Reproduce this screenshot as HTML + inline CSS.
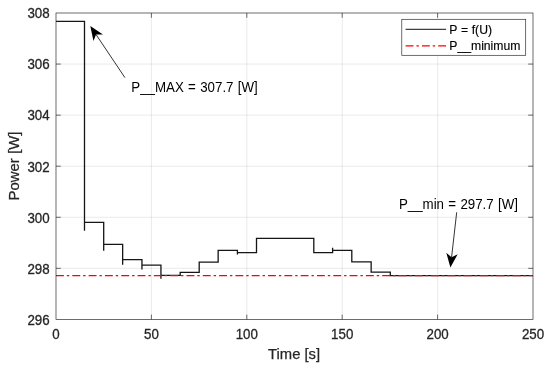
<!DOCTYPE html>
<html><head><meta charset="utf-8"><style>
html,body{margin:0;padding:0;background:#fff;}
body{width:550px;height:369px;overflow:hidden;}
svg{display:block;font-family:"Liberation Sans",Arial,sans-serif;}
text{stroke:currentColor;}
</style></head><body>
<svg width="550" height="369" viewBox="0 0 550 369">
<rect width="550" height="369" fill="#fff"/>
<g stroke="#262626" stroke-opacity="0.15" stroke-width="0.67"><line x1="151.40" y1="13.00" x2="151.40" y2="319.40"/><line x1="246.80" y1="13.00" x2="246.80" y2="319.40"/><line x1="342.20" y1="13.00" x2="342.20" y2="319.40"/><line x1="437.60" y1="13.00" x2="437.60" y2="319.40"/><line x1="56.00" y1="268.33" x2="533.00" y2="268.33"/><line x1="56.00" y1="217.27" x2="533.00" y2="217.27"/><line x1="56.00" y1="166.20" x2="533.00" y2="166.20"/><line x1="56.00" y1="115.13" x2="533.00" y2="115.13"/><line x1="56.00" y1="64.07" x2="533.00" y2="64.07"/></g>
<polyline points="56.00,21.45 84.50,21.45 84.50,230.80 84.50,222.40 103.70,222.40 103.70,250.80 103.70,244.35 122.65,244.35 122.65,264.80 122.65,259.60 141.95,259.60 141.95,269.50 141.95,265.10 160.95,265.10 160.95,278.70 160.95,275.45 180.20,275.45 180.20,272.40 199.20,272.40 199.20,262.10 218.15,262.10 218.15,250.45 237.40,250.45 237.40,254.60 237.40,252.65 256.50,252.65 256.50,238.45 313.80,238.45 313.80,252.60 332.60,252.60 332.60,247.80 332.60,250.45 351.80,250.45 351.80,261.85 371.15,261.85 371.15,272.10 390.30,272.10 390.30,275.55 533.00,275.55" fill="none" stroke="#151515" stroke-width="1.3" stroke-linejoin="miter"/>
<line x1="56.00" y1="275.6" x2="533.00" y2="275.6" stroke="#ff0000" stroke-width="1.4" stroke-dasharray="7.9 2.95 2.4 3.06"/>
<path d="M151.40 319.40V314.60M151.40 13.00V17.80M246.80 319.40V314.60M246.80 13.00V17.80M342.20 319.40V314.60M342.20 13.00V17.80M437.60 319.40V314.60M437.60 13.00V17.80M56.00 268.33H60.80M533.00 268.33H528.20M56.00 217.27H60.80M533.00 217.27H528.20M56.00 166.20H60.80M533.00 166.20H528.20M56.00 115.13H60.80M533.00 115.13H528.20M56.00 64.07H60.80M533.00 64.07H528.20" stroke="#262626" stroke-width="0.67" fill="none"/>
<rect x="56.00" y="13.00" width="477.00" height="306.40" fill="none" stroke="#262626" stroke-width="0.67"/>
<g font-size="13.33" fill="#262626" color="#262626" stroke-width="0.28"><text x="49.60" y="324.75" text-anchor="end" transform="matrix(1 0 0 1.04 0 -12.99)">296</text><text x="49.60" y="273.68" text-anchor="end" transform="matrix(1 0 0 1.04 0 -10.95)">298</text><text x="49.60" y="222.62" text-anchor="end" transform="matrix(1 0 0 1.04 0 -8.90)">300</text><text x="49.60" y="171.55" text-anchor="end" transform="matrix(1 0 0 1.04 0 -6.86)">302</text><text x="49.60" y="120.48" text-anchor="end" transform="matrix(1 0 0 1.04 0 -4.82)">304</text><text x="49.60" y="69.42" text-anchor="end" transform="matrix(1 0 0 1.04 0 -2.78)">306</text><text x="49.60" y="18.35" text-anchor="end" transform="matrix(1 0 0 1.04 0 -0.73)">308</text><text x="56.00" y="339.20" text-anchor="middle" transform="matrix(1 0 0 1.04 0 -13.57)">0</text><text x="151.40" y="339.20" text-anchor="middle" transform="matrix(1 0 0 1.04 0 -13.57)">50</text><text x="246.80" y="339.20" text-anchor="middle" transform="matrix(1 0 0 1.04 0 -13.57)">100</text><text x="342.20" y="339.20" text-anchor="middle" transform="matrix(1 0 0 1.04 0 -13.57)">150</text><text x="437.60" y="339.20" text-anchor="middle" transform="matrix(1 0 0 1.04 0 -13.57)">200</text><text x="533.00" y="339.20" text-anchor="middle" transform="matrix(1 0 0 1.04 0 -13.57)">250</text></g>
<text x="294.1" y="358.8" font-size="14.8" text-anchor="middle" fill="#262626" color="#262626" stroke-width="0.25">Time [s]</text>
<text transform="translate(19.0 166.0) rotate(-90)" font-size="14.9" word-spacing="0.3" text-anchor="middle" fill="#262626" color="#262626" stroke-width="0.25">Power [W]</text>
<rect x="401.8" y="19.3" width="123.9" height="36" fill="#fff" stroke="#262626" stroke-width="0.67"/>
<line x1="405.6" y1="29.3" x2="446.1" y2="29.3" stroke="#111" stroke-width="1.0"/>
<line x1="405.6" y1="45.8" x2="446.1" y2="45.8" stroke="#ff0000" stroke-width="1.25" stroke-dasharray="7.9 2.95 2.4 3.06"/>
<g font-size="12.2" fill="#000" color="#000" word-spacing="0.3" stroke-width="0.15"><text x="449.30" y="34.00" transform="matrix(1 0 0 1.04 0 -1.36)">P = f(U)</text><text x="449.30" y="50.40" transform="matrix(1 0 0 1.04 0 -2.02)">P__minimum</text></g>
<line x1="124.90" y1="77.60" x2="96.04" y2="34.55" stroke="#000" stroke-width="0.8"/><polygon points="90.30,26.00 102.94,34.62 96.04,34.55 93.47,40.97" fill="#000"/>
<line x1="456.70" y1="212.30" x2="451.57" y2="257.37" stroke="#000" stroke-width="0.8"/><polygon points="450.40,267.60 446.34,252.85 451.57,257.37 457.67,254.14" fill="#000"/>
<g font-size="13.33" fill="#000" color="#000" word-spacing="0.6" stroke-width="0"><text x="131.30" y="92.40" transform="matrix(1 0 0 1.04 0 -3.70)">P__MAX = 307.7 [W]</text><text x="398.90" y="208.90" transform="matrix(1 0 0 1.04 0 -8.36)">P__min = 297.7 [W]</text></g>
</svg>
</body></html>
